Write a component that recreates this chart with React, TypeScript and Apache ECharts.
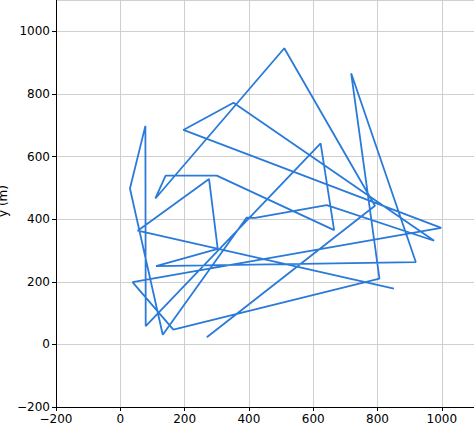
import React, { useEffect, useRef } from "react";
import * as echarts from "echarts";

// Path vertices in drawing order (metres)
const xValues = [269, 792, 510, 109, 141, 300, 665, 623, 79, 78, 30, 132, 393, 419, 642, 976, 352, 196, 998, 38, 165, 806, 718, 919, 111, 303, 276, 54, 851];
const yValues = [23, 443, 946, 466, 539, 539, 365, 642, 58, 698, 498, 31, 405, 404, 445, 331, 772, 685, 372, 199, 47, 210, 866, 263, 250, 305, 528, 363, 178];
const tickLabels = [-200, 0, 200, 400, 600, 800, 1000];
const yLabel = "y (m)";

const fmt = (v: number) => (tickLabels.includes(v) ? String(v).replace("-", "\u2212") : "");

export default function App() {
  const ref = useRef<HTMLDivElement>(null);
  useEffect(() => {
    if (!ref.current) return;
    const chart = echarts.init(ref.current, undefined, { renderer: "svg" });
    const data = xValues.map((x, i) => [x, yValues[i]]);
    const axisCommon = {
      type: "value" as const,
      min: -200,
      max: 1100,
      interval: 200,
      axisLine: { show: true, onZero: false, lineStyle: { color: "#000", width: 1 } },
      axisTick: { show: true, length: 4, lineStyle: { color: "#000", width: 1 } },
      splitLine: { show: true, lineStyle: { color: "#cfcfcf", width: 1 } },
      axisLabel: {
        formatter: fmt,
        color: "#000",
        fontFamily: "DejaVu Sans",
        fontSize: 12,
        showMaxLabel: false,
      },
    };
    chart.setOption({
      animation: false,
      backgroundColor: "#fff",
      grid: { left: 56, right: 0, top: 0, bottom: 24, containLabel: false },
      xAxis: { ...axisCommon, axisLabel: { ...axisCommon.axisLabel, margin: 6 } },
      yAxis: { ...axisCommon, axisLabel: { ...axisCommon.axisLabel, margin: 6 } },
      graphic: [
        {
          type: "text",
          x: 3,
          y: 201,
          rotation: Math.PI / 2,
          style: {
            text: yLabel,
            font: "12px DejaVu Sans",
            fill: "#000",
            textAlign: "center",
            textVerticalAlign: "middle",
          },
        },
      ],
      series: [
        {
          type: "line",
          data,
          showSymbol: false,
          symbol: "none",
          lineStyle: { color: "#2a7ad9", width: 1.8 },
        },
      ],
    });
    return () => chart.dispose();
  }, []);
  return (
    <div
      ref={ref}
      style={{ position: "fixed", left: 0, top: 0, width: 474, height: 431 }}
    />
  );
}
